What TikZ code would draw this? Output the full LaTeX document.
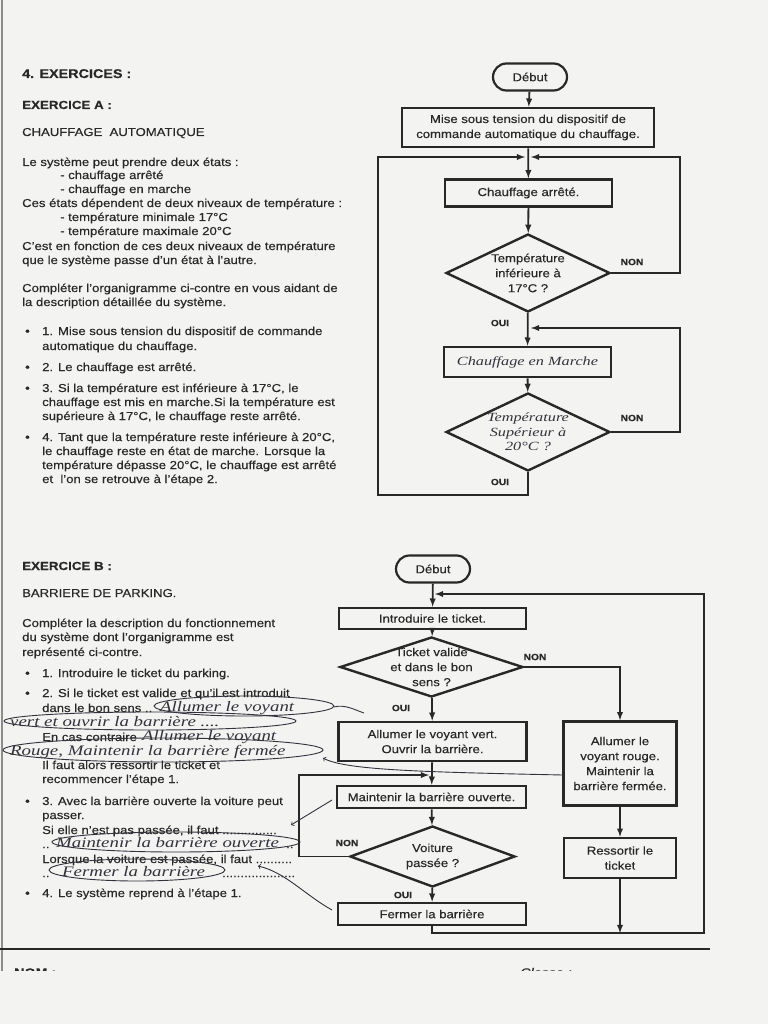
\documentclass[tikz,border=0pt]{standalone}
\usepackage{fontspec}
\setsansfont[FakeStretch=1.14, FakeBold=0.3]{Liberation Sans}
\newfontfamily\handfont[FakeStretch=1.3]{Liberation Serif}
\renewcommand{\familydefault}{\sfdefault}
\usetikzlibrary{shapes.geometric}

\definecolor{ink}{RGB}{40,40,40}
\definecolor{paper}{RGB}{243,243,241}
\definecolor{pencil}{RGB}{50,50,60}

\tikzset{
  txt/.style={anchor=base west, inner sep=0, text=ink, font=\fontsize{11.5}{14}\selectfont},
  hd/.style={txt, font=\fontsize{11.7}{14}\selectfont\bfseries},
  hand/.style={anchor=base west, inner sep=0, text=pencil, font=\handfont\itshape\fontsize{14.5}{14}\selectfont},
  box/.style={draw=ink, line width=2.6pt, inner sep=0, align=center, text=ink, font=\fontsize{11.5}{15}\selectfont},
  term/.style={box, rounded corners=13.5pt, line width=2.2pt},
  dec/.style={diamond, draw=ink, line width=2.4pt, inner sep=0},
  lbl/.style={align=center, inner sep=0, text=ink, font=\fontsize{11.5}{15}\selectfont},
  hlbl/.style={align=center, inner sep=0, text=pencil, font=\handfont\itshape\fontsize{12.5}{14.5}\selectfont},
  yn/.style={inner sep=0, text=ink, font=\fontsize{9}{10}\selectfont\bfseries},
  flow/.style={draw=ink, line width=1.8pt, ->, >=latex},
  pen/.style={draw=pencil, line width=0.9pt},
}

\begin{document}
\begin{tikzpicture}[x=1pt,y=-1pt]

\fill[paper] (0,0) rectangle (768,1024);
\useasboundingbox (0,0) rectangle (768,1024);
\draw[black!45, line width=1.5pt] (2,0) -- (2,1024);

%%% exercice A : texte
\node[hd, font=\fontsize{12.6}{14}\selectfont\bfseries] (titre) at (22,78) {4. EXERCICES :};
\node[hd] (exA) at (22,109) {EXERCICE A :};
\foreach \yy/\xx/\t [count=\i] in {
  136/22/{CHAUFFAGE\ \ AUTOMATIQUE},
  166/22/{Le système peut prendre deux états :},
  179/60/{- chauffage arrêté},
  193/60/{- chauffage en marche},
  207/22/{Ces états dépendent de deux niveaux de température :},
  221/60/{- température minimale 17°C},
  235/60/{- température maximale 20°C},
  250/22/{C'est en fonction de ces deux niveaux de température},
  264/22/{que le système passe d'un état à l'autre.},
  292/22/{Compléter l'organigramme ci-contre en vous aidant de},
  306/22/{la description détaillée du système.},
  335/42/{1. Mise sous tension du dispositif de commande},
  350/42/{automatique du chauffage.},
  371/42/{2. Le chauffage est arrêté.},
  392/42/{3. Si la température est inférieure à 17°C, le},
  406/42/{chauffage est mis en marche.Si la température est},
  420/42/{supérieure à 17°C, le chauffage reste arrêté.},
  441/42/{4. Tant que la température reste inférieure à 20°C,},
  455/42/{le chauffage reste en état de marche. Lorsque la},
  469/42/{température dépasse 20°C, le chauffage est arrêté},
  483/42/{et\ \ l'on se retrouve à l'étape 2.}}
  \node[txt] (tA\i) at (\xx,\yy) {\t};
\foreach \yy [count=\i] in {335,371,392,441}
  \node[txt] (bA\i) at (25,\yy) {•};

%%% exercice A : organigramme
\node[term, minimum width=74, minimum height=27] (debA) at (530,77) {Début};
\node[box, minimum width=252, minimum height=39] (miseA) at (528,127.5) {Mise sous tension du dispositif de\\commande automatique du chauffage.};
\coordinate (jA1) at (528,157);
\node[box, minimum width=167, minimum height=27] (arretA) at (528.5,193) {Chauffage arrêté.};
\node[dec, minimum width=164, minimum height=78,
  label={[lbl]center:Température\\inférieure à\\17°C ?}] (testA1) at (528,273) {};
\coordinate (jA2) at (528,328);
\node[box, minimum width=167, minimum height=30] (marcheA) at (527.5,362) {};
\node[hlbl] (marcheT) at (marcheA) {Chauffage en Marche};
\node[dec, minimum width=164, minimum height=78,
  label={[hlbl]center:Température\\Supérieur à\\20°C ?}] (testA2) at (528,432) {};
\coordinate (rA1) at (680,157);
\coordinate (rA2) at (680,328);
\coordinate (bA) at (528,495);
\coordinate (lA) at (378,157);

\draw[flow] (debA) -- (miseA);
\draw[flow] (miseA) -- (arretA);
\draw[flow] (arretA) -- (testA1);
\draw[flow] (testA1) -- (marcheA);
\draw[flow] (marcheA) -- (testA2);
\draw[flow, shorten >=3pt] (testA1.east) -| (rA1) -- (jA1);
\draw[flow, shorten >=3pt] (testA2.east) -| (rA2) -- (jA2);
\draw[flow, shorten >=3pt] (testA2.south) -- (bA) -| (lA) -- (jA1);

\node[yn] (nonA1) at (632,262) {NON};
\node[yn] (ouiA1) at (500,323) {OUI};
\node[yn] (nonA2) at (632,418) {NON};
\node[yn] (ouiA2) at (500,482) {OUI};

%%% exercice B : texte
\node[hd] (exB) at (22,570) {EXERCICE B :};
\foreach \yy/\xx/\t [count=\i] in {
  597/22/{BARRIERE DE PARKING.},
  627/22/{Compléter la description du fonctionnement},
  641/22/{du système dont l'organigramme est},
  656/22/{représenté ci-contre.},
  677/42/{1. Introduire le ticket du parking.},
  697/42/{2. Si le ticket est valide et qu'il est introduit},
  712/42/{dans le bon sens ..},
  741/42/{En cas contraire},
  769/42/{Il faut alors ressortir le ticket et},
  783/42/{recommencer l'étape 1.},
  805/42/{3. Avec la barrière ouverte la voiture peut},
  819/42/{passer.},
  834/42/{Si elle n'est pas passée, il faut ...............},
  848/42/{..},
  848/286/{..},
  863/42/{Lorsque la voiture est passée, il faut ..........},
  877/42/{..},
  877/222/{....................},
  897/42/{4. Le système reprend à l'étape 1.}}
  \node[txt] (tB\i) at (\xx,\yy) {\t};
\foreach \yy [count=\i] in {677,697,805,897}
  \node[txt] (bB\i) at (25,\yy) {•};

%% reponses au crayon
\node[hand] (hB1) at (160,711) {Allumer le voyant};
\node[hand] (hB2) at (10,726) {vert et ouvrir la barrière ....};
\node[hand] (hB3) at (142,740) {Allumer le voyant};
\node[hand] (hB4) at (10,755) {Rouge, Maintenir la barrière fermée};
\node[hand] (hB5) at (56,847) {Maintenir la barrière ouverte};
\node[hand] (hB6) at (62,876) {Fermer la barrière};

\draw[pen] (244,706) ellipse (90 and 10);
\draw[pen] (150,721) ellipse (146 and 9);
\draw[pen] (163,750) ellipse (160 and 12);
\draw[pen] (176,842) ellipse (124 and 10);
\draw[pen] (137,870) ellipse (88 and 11);

%%% exercice B : organigramme
\node[term, minimum width=74, minimum height=27] (debB) at (433,569) {Début};
\coordinate (jB1) at (432,594);
\node[box, minimum width=187, minimum height=21] (introB) at (432.5,618.5) {Introduire le ticket.};
\node[dec, minimum width=183, minimum height=60,
  label={[lbl]center:Ticket valide\\et dans le bon\\sens ?}] (testB1) at (431.5,667) {};
\node[box, minimum width=188, minimum height=39] (vertB) at (432.5,741.5) {Allumer le voyant vert.\\Ouvrir la barrière.};
\node[box, minimum width=113, minimum height=84] (rougeB) at (620,763.5) {Allumer le\\voyant rouge.\\Maintenir la\\barrière fermée.};
\coordinate (jB2) at (432,775);
\node[box, minimum width=189, minimum height=22] (ouvB) at (431.5,797) {Maintenir la barrière ouverte.};
\node[dec, minimum width=165, minimum height=61,
  label={[lbl]center:Voiture\\passée ?}] (testB2) at (432.5,856.5) {};
\node[box, minimum width=112, minimum height=40] (ressB) at (620,858) {Ressortir le\\ticket};
\node[box, minimum width=188, minimum height=22] (fermB) at (432,914) {Fermer la barrière};
\coordinate (nB) at (620,667);
\coordinate (lB) at (299,775);
\coordinate (bB) at (432,933);
\coordinate (cB) at (620,933);
\coordinate (rB) at (704,594);

\draw[flow] (debB) -- (introB);
\draw[flow] (introB) -- (testB1);
\draw[flow] (testB1) -- (vertB);
\draw[flow] (testB1.east) -- (nB) -- (rougeB);
\draw[flow] (vertB) -- (ouvB);
\draw[flow] (ouvB) -- (testB2);
\draw[flow] (testB2) -- (fermB);
\draw[flow] (rougeB) -- (ressB);
\draw[flow] (ressB) -- (cB);
\draw[flow, shorten >=3pt] (testB2.west) -| (lB) -- (jB2);
\draw[flow, shorten >=3pt] (fermB) -- (bB) -| (rB) -- (jB1);

\node[yn] (nonB1) at (535,657) {NON};
\node[yn] (ouiB1) at (401,708) {OUI};
\node[yn] (nonB2) at (347,843) {NON};
\node[yn] (ouiB2) at (403,895) {OUI};

%% fleches au crayon
\draw[pen] (334,707) .. controls (345,704) and (355,710) .. (364,713);
\draw[pen, <-] (323,758) .. controls (345,770) and (420,772) .. (563,775);
\draw[pen, ->] (332,800) -- (291,825);
\draw[pen, ->] (332,910) .. controls (305,895) and (285,872) .. (258,866);

%%% bas de page
\draw[ink, line width=2pt] (0,949) -- (710,949);
\node[txt, font=\fontsize{12.5}{14}\selectfont\bfseries] (nom) at (14,977) {NOM :};
\node[txt, font=\fontsize{12.5}{14}\selectfont\itshape] (classe) at (520,977) {Classe :};
\fill[paper] (0,971) rectangle (768,1024);

\end{tikzpicture}
\end{document}
